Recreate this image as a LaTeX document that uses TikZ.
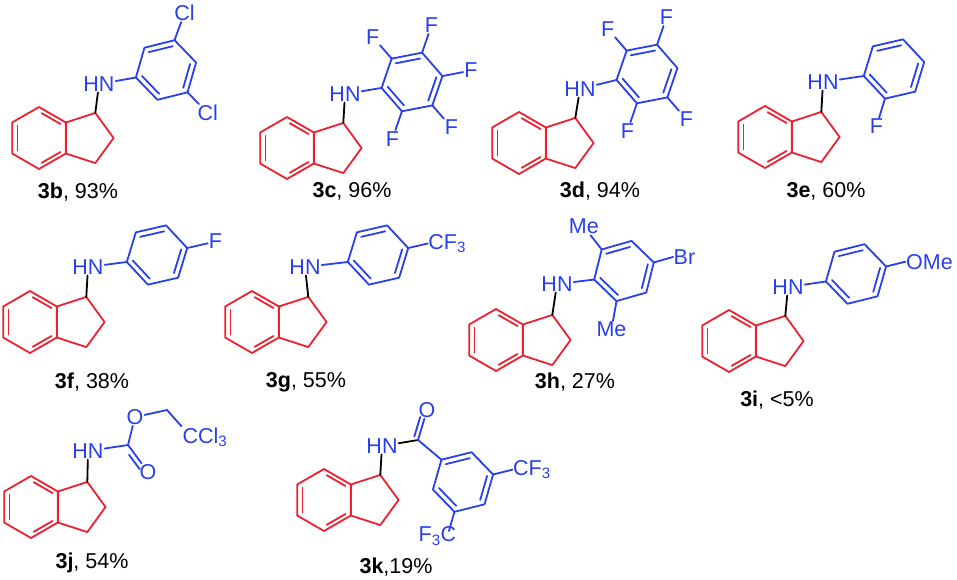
\documentclass[tikz,border=0pt]{standalone}
\usepackage{fontspec}
\setmainfont{Liberation Sans}
\usetikzlibrary{calc}
\definecolor{rd}{RGB}{238,32,48}
\definecolor{bl}{RGB}{40,64,235}
\tikzset{
 redb/.style={draw=rd,line width=1.8pt,line join=round,line cap=round},
 blueb/.style={draw=bl,line width=1.8pt,line join=round,line cap=round},
 blk/.style={draw=black,line width=1.8pt,line cap=round},
 lab/.style={text=bl,inner sep=1pt,font=\fontsize{21.5}{21.5}\selectfont},
 cpt/.style={text=black,inner sep=0pt,font=\fontsize{21.5}{21.5}\selectfont}
}
\newcommand\sbt[1]{\textsubscript{#1}}
\newcommand\indane[3]{%
 \begin{scope}[shift={(#1,#2)}]
 \draw[redb] (0,-31)--(26.85,-15.5)--(26.85,15.5)--(0,31)--(-26.85,15.5)--(-26.85,-15.5)--cycle;
 \draw[redb] (-21.5,-12.4)--(-21.5,12.4);
 \draw[redb] (2.7,-24.8)--(21.5,-14);
 \draw[redb] (2.7,24.8)--(21.5,14);
 \draw[redb] (26.85,-15.5)--(56.3,-25.08)--(74.55,0)--(56.3,25.08)--(26.85,15.5);
 \coordinate (#3) at (56.3,-25.08);
 \end{scope}}
\newcommand\arring[5]{%
 \coordinate (#1c) at (#2,#3);
 \foreach \k in {0,...,5}{\coordinate (#1\k) at ($(#1c)+({#4+60*\k}:31)$);}
 \draw[blueb] (#10)--(#11)--(#12)--(#13)--(#14)--(#15)--cycle;
 \foreach \k in {#5}{\pgfmathtruncatemacro\kn{mod(\k+1,6)}%
   \draw[blueb] ($(#1c)!0.8!(#1\k)$) -- ($(#1c)!0.8!(#1\kn)$);}}
\newcommand\subst[4]{% name, vertex, angle, text
 \node[lab] (#1) at ($(#2)+(#3:29)$) {#4};
 \draw[blueb] (#2) -- (#1);}
\newcommand\substw[4]{% long label, bond then anchor west
 \draw[blueb] (#2) -- ($(#2)+(#3:20)$) coordinate (#1e);
 \node[lab,anchor=west,inner sep=0.5pt] (#1) at (#1e) {#4};}
\begin{document}
\begin{tikzpicture}[x=1pt,y=-1pt]
\useasboundingbox (0,0) rectangle (957,579);
% 3b
\indane{39}{138}{b1}
\node[lab] (bn) at (99,84) {HN};
\draw[blk] (b1)--(bn);
\arring{br}{166}{70}{166}{1,3,5}
\draw[blueb] (bn)--(br0);
\subst{bcl1}{br2}{290}{Cl}
\subst{bcl2}{br4}{46}{Cl}
\node[cpt] at (78,192) {\textbf{3b}, 93\%};
% 3c
\indane{287}{148}{c1}
\node[lab] (cn) at (345,94) {HN};
\draw[blk] (c1)--(cn);
\arring{cr}{412}{82}{169}{1,3,5}
\draw[blueb] (cn)--(cr0);
\subst{cf1}{cr1}{229}{F}
\subst{cf2}{cr2}{289}{F}
\subst{cf3}{cr3}{349}{F}
\subst{cf4}{cr4}{49}{F}
\subst{cf5}{cr5}{109}{F}
\node[cpt] at (352,191) {\textbf{3c}, 96\%};
% 3d
\indane{519}{143}{d1}
\node[lab] (dn) at (580,89) {HN};
\draw[blk] (d1)--(dn);
\arring{dr}{647}{74}{169}{1,3,5}
\draw[blueb] (dn)--(dr0);
\subst{df1}{dr1}{229}{F}
\subst{df2}{dr2}{289}{F}
\subst{df4}{dr4}{49}{F}
\subst{df5}{dr5}{109}{F}
\node[cpt] at (600,191) {\textbf{3d}, 94\%};
% 3e
\indane{765}{137}{e1}
\node[lab] (en) at (823,82) {HN};
\draw[blk] (e1)--(en);
\arring{er}{894}{69}{167}{1,3,5}
\draw[blueb] (en)--(er0);
\subst{ef5}{er5}{107}{F}
\node[cpt] at (826,191) {\textbf{3e}, 60\%};
% 3f
\indane{30}{322}{f1}
\node[lab] (fn) at (88,267) {HN};
\draw[blk] (f1)--(fn);
\arring{fr}{157}{255}{167}{1,3,5}
\draw[blueb] (fn)--(fr0);
\subst{ff3}{fr3}{347}{F}
\node[cpt] at (92,382) {\textbf{3f}, 38\%};
% 3g
\indane{252}{322}{g1}
\node[lab] (gn) at (305,267) {HN};
\draw[blk] (g1)--(gn);
\arring{gr}{378}{255}{167}{1,3,5}
\draw[blueb] (gn)--(gr0);
\substw{gcf}{gr3}{347}{CF\sbt{3}}
\node[cpt] at (306,382) {\textbf{3g}, 55\%};
% 3h
\indane{496}{340}{h1}
\node[lab] (hn) at (557,284) {HN};
\draw[blk] (h1)--(hn);
\arring{hr}{624}{271}{164}{1,3,5}
\draw[blueb] (hn)--(hr0);
\subst{hme1}{hr1}{232}{Me}
\substw{hbr}{hr3}{344}{Br}
\subst{hme2}{hr5}{100}{Me}
\node[cpt] at (575,382) {\textbf{3h}, 27\%};
% 3i
\indane{729}{341}{i1}
\node[lab] (in) at (788,287) {HN};
\draw[blk] (i1)--(in);
\arring{ir}{856}{274}{166}{1,3,5}
\draw[blueb] (in)--(ir0);
\substw{iome}{ir3}{346}{OMe}
\node[cpt] at (777,400) {\textbf{3i}, <5\%};
% 3j
\indane{31}{507}{j1}
\node[lab] (jn) at (88,451) {HN};
\draw[blk] (j1)--(jn);
\coordinate (jc) at (128,445);
\draw[blueb] (jn)--(jc);
\node[lab] (jo2) at (148,472) {O};
\draw[blueb] (jc)--(jo2);
\draw[blueb] ($(jc)!0.25!(jo2)+(-4,3)$)--($(jc)!0.78!(jo2)+(-4,3)$);
\node[lab] (jo1) at (135,417) {O};
\draw[blueb] (jc)--(jo1);
\coordinate (jch) at (167,410);
\draw[blueb] (jo1)--(jch);
\node[lab] (jccl) at (205,437) {CCl\sbt{3}};
\draw[blueb] (jch)--(jccl.north west);
\node[cpt] at (92,563) {\textbf{3j}, 54\%};
% 3k
\indane{324}{500}{k1}
\node[lab] (kn) at (382,446) {HN};
\draw[blk] (k1)--(kn);
\coordinate (kc) at (418,440);
\draw[blk] (kn)--(kc);
\node[lab] (ko) at (427,410) {O};
\draw[blueb] (kc)--(ko);
\draw[blueb] ($(kc)!0.15!(ko)+(-5,1)$)--($(kc)!0.8!(ko)+(-5,1)$);
\arring{kr}{463}{482}{226}{0,2,4}
\draw[blueb] (kc)--(kr0);
\substw{kcf}{kr2}{346}{CF\sbt{3}}
\draw[blueb] (kr4) -- ($(kr4)+(106:20)$) coordinate (kf3e);
\node[lab,anchor=north east,inner sep=0.5pt] at ($(kf3e)+(8,-5)$) {F\sbt{3}C};
\node[cpt] at (396,567) {\textbf{3k},19\%};
\end{tikzpicture}
\end{document}
